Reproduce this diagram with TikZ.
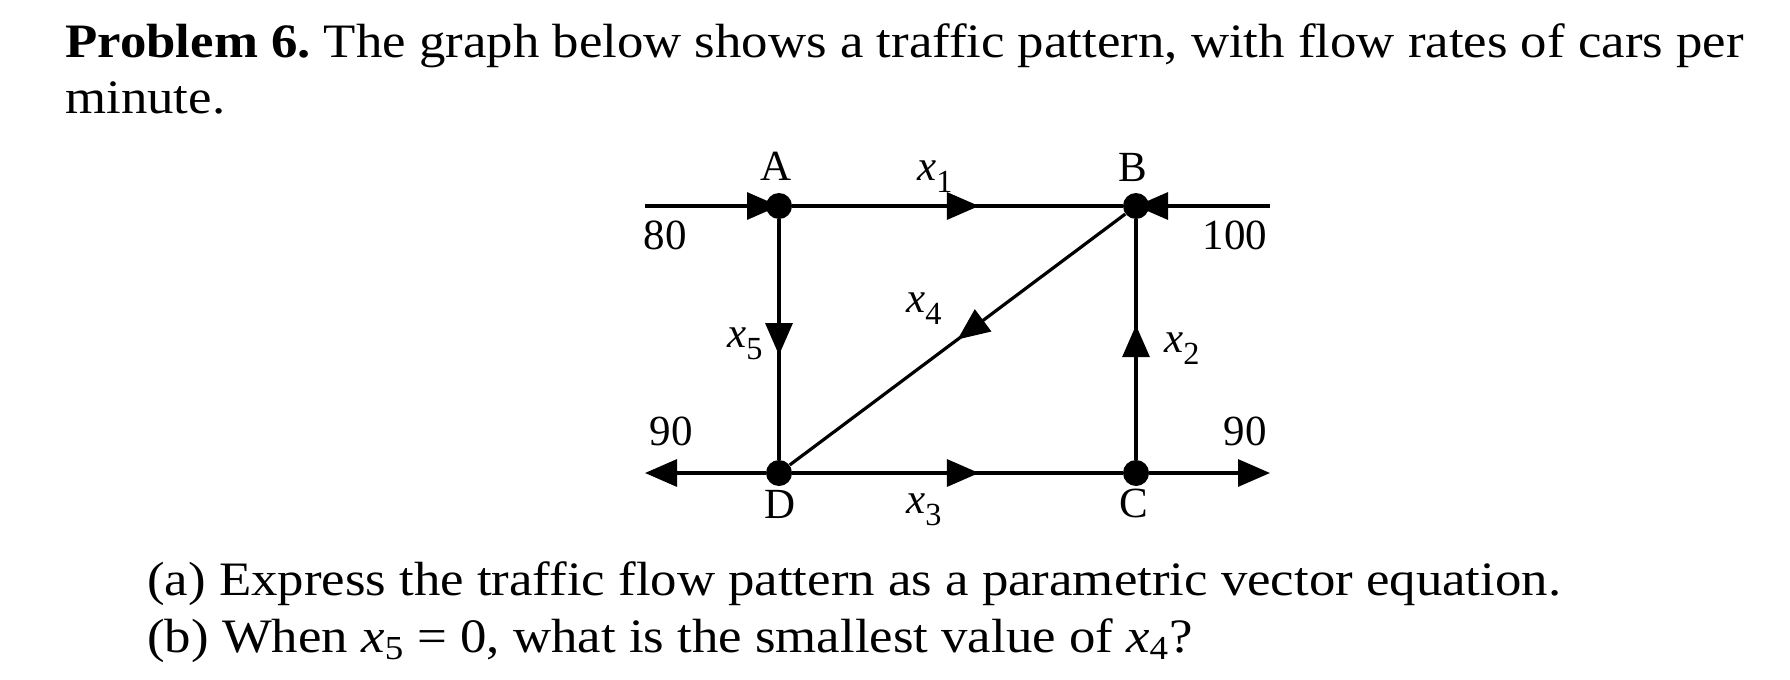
\documentclass[tikz,border=0pt]{standalone}
\usepackage{fontspec}
\usepackage{graphicx}
\setmainfont{Liberation Serif}
\newfontfamily\qfont[FakeStretch=1.1]{Liberation Serif}
\usetikzlibrary{arrows.meta,decorations.markings}

\newcommand\xv[1]{\textit{x}\raisebox{-0.3em}{\scalebox{0.75}{#1}}}

\tikzset{
  junction/.style={circle,fill,inner sep=0pt,minimum size=13pt},
  road/.style={line width=1.6pt},
  carhead/.style={-{Triangle[length=16pt,width=13.5pt]}},
  flow/.style={decoration={markings,
      mark=at position #1 with {\arrow{Triangle[length=16pt,width=13.5pt]}}},
    postaction={decorate}},
  lbl/.style={inner sep=0pt,anchor=base,font=\fontsize{21.5pt}{24pt}\selectfont},
  xlbl/.style={lbl,anchor=base west},
  txt/.style={inner sep=0pt,anchor=base west,font=\qfont\fontsize{24pt}{28pt}\selectfont\frenchspacing}
}

\begin{document}
\begin{tikzpicture}[x=0.5pt,y=-0.5pt]
  \useasboundingbox (0,0) rectangle (1790,680);
  % question text
  \node [txt] (line1) at (65,57) {\textbf{Problem 6.} The graph below shows a traffic pattern, with flow rates of cars per};
  \node [txt] (line2) at (65,113) {minute.};
  \node [txt] (parta) at (147,595) {(a) Express the traffic flow pattern as a parametric vector equation.};
  \node [txt] (partb) at (147,652) {(b) When \textit{x}\textsubscript{5} = 0, what is the smallest value of \textit{x}\textsubscript{4}?};
  % junctions
  \node [junction] (A) at (779,206) {};
  \node [junction] (B) at (1136,206) {};
  \node [junction] (C) at (1136,473) {};
  \node [junction] (D) at (779,473) {};
  \coordinate (in80) at (645,206);
  \coordinate (in100) at (1270,206);
  \coordinate (out90l) at (645,473);
  \coordinate (out90r) at (1270,473);
  % roads
  \draw [road,carhead] (in80) -- (A.center);
  \draw [road,carhead] (in100) -- (B.center);
  \draw [road,carhead] (D) -- (out90l);
  \draw [road,carhead] (C) -- (out90r);
  \draw [road,flow=0.565] (A) -- (B);
  \draw [road,flow=0.565] (A) -- (D);
  \draw [road,flow=0.56] (C) -- (B);
  \draw [road,flow=0.565] (D) -- (C);
  \draw [road,flow=0.5] (B) -- (D);
  % labels
  \node [lbl] (labA) at (776,180) {A};
  \node [lbl] (labB) at (1133,181) {B};
  \node [lbl] (labC) at (1134,517) {C};
  \node [lbl] (labD) at (780,518) {D};
  \node [lbl] (lab80) at (665,249) {80};
  \node [lbl] (lab100) at (1235,249) {100};
  \node [lbl] (lab90l) at (671,445) {90};
  \node [lbl] (lab90r) at (1245,445) {90};
  \node [xlbl] (labx1) at (917,180) {\xv{1}};
  \node [xlbl] (labx2) at (1164,352) {\xv{2}};
  \node [xlbl] (labx3) at (906,513) {\xv{3}};
  \node [xlbl] (labx4) at (906,312) {\xv{4}};
  \node [xlbl] (labx5) at (727,347) {\xv{5}};
\end{tikzpicture}
\end{document}
